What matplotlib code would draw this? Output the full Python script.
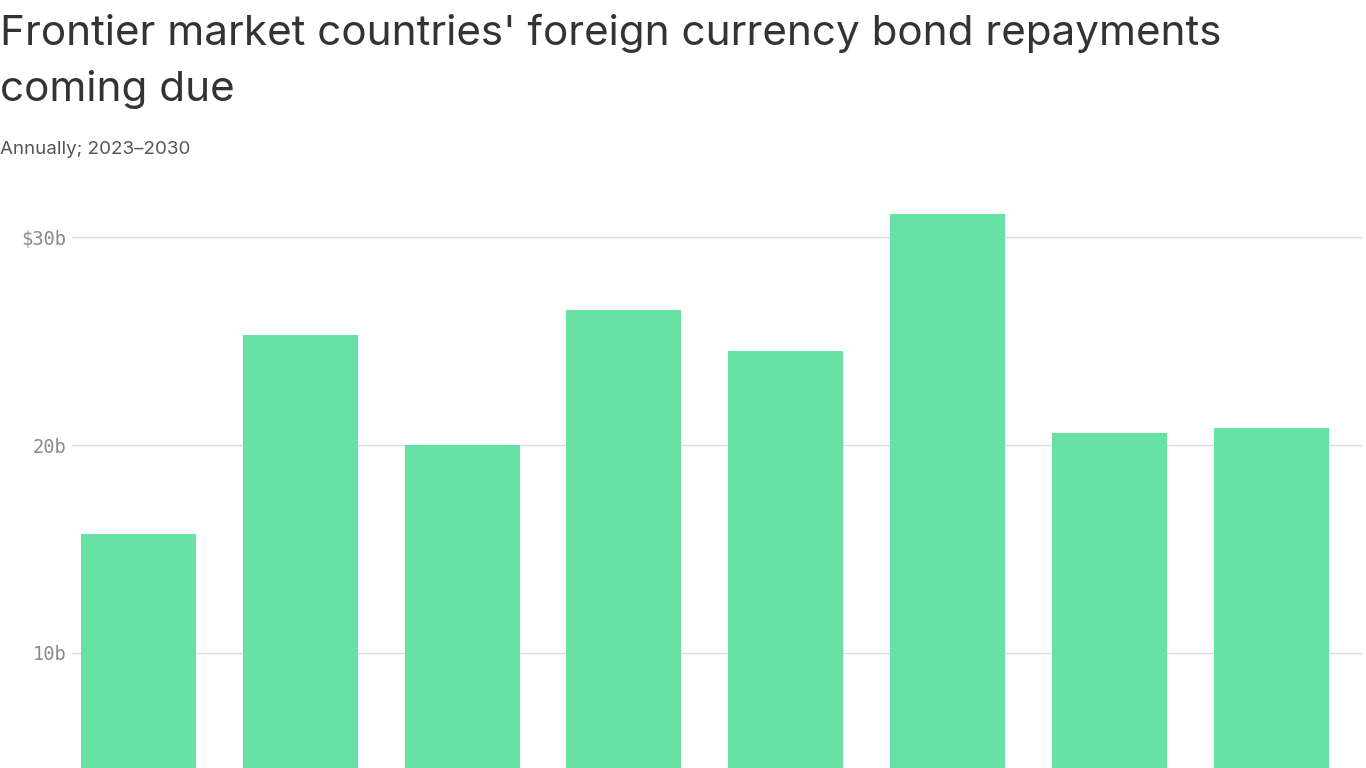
import matplotlib
matplotlib.use("Agg")
import matplotlib.pyplot as plt

## ------------------------------- ##
years = [2023, 2024, 2025, 2026, 2027, 2028, 2029, 2030]
repayments = [15.7, 25.3, 20.0, 26.5, 24.5, 31.1, 20.6, 20.8]   # $ billions
ticks = [10, 20, 30]
tick_labels = ["10b", "20b", "$30b"]
## ------------------------------- ##

W, H = 1366, 768
fig = plt.figure(figsize=(W / 100, H / 100), dpi=100)
fig.patch.set_facecolor("white")

# axes run off the bottom of the picture, like the reference
ax = fig.add_axes([72 / W, 0, 1290 / W, 568 / H])
x = list(range(len(years)))
ax.bar(x, repayments, width=0.71, color="#67e2a4", zorder=2)

ax.set_xlim(-0.41, 7.56)
ax.set_ylim(4.47, 31.78)
ax.set_yticks(ticks)
ax.set_yticklabels(tick_labels, family="DejaVu Sans Mono", fontsize=13.5, color="#8a8a8a")
ax.tick_params(axis="y", length=0, pad=4)
ax.set_xticks([])
ax.grid(axis="y", color="#dddddd", lw=1, zorder=0)
for s in ax.spines.values():
    s.set_visible(False)

fig.text(0, 1 - 45 / H, "Frontier market countries' foreign currency bond repayments",
         family=["Inter", "DejaVu Sans"], fontsize=30.4, color="#333333", va="baseline")
fig.text(0, 1 - 101 / H, "coming due",
         family=["Inter", "DejaVu Sans"], fontsize=30.4, color="#333333", va="baseline")
fig.text(0, 1 - 154 / H, "Annually; 2023–2030",
         family=["Inter", "DejaVu Sans"], fontsize=13.5, color="#555555", va="baseline")

fig.savefig("out.png", dpi=100)
